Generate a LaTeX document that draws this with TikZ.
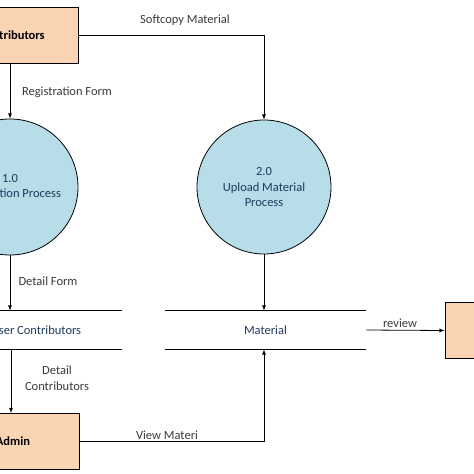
\documentclass[tikz,border=0pt]{standalone}
\usepackage{fontspec}
\setmainfont{Carlito}
\usetikzlibrary{arrows, shapes}

\definecolor{peach}{HTML}{FBD4B4}
\definecolor{aqua}{HTML}{B6DDE8}
\definecolor{navy}{HTML}{1F3B5C}
\definecolor{ink}{HTML}{3A3A3A}

\tikzset{
  entity/.style={rectangle, draw, fill=peach, minimum width=132pt, minimum height=56pt, font=\fontsize{12.5}{15}\selectfont\bfseries},
  proc/.style={circle, draw, fill=aqua, text=navy, align=center, inner sep=0pt},
  store/.style={rectangle, minimum height=38pt, text=navy},
  flow/.style={text=ink, align=center}
}

\begin{document}
\begin{tikzpicture}[x=1pt, y=-1pt, line width=0.8pt, font=\fontsize{12.5}{15.5}\selectfont]
\useasboundingbox (0,0) rectangle (474,474);

\node[entity] (contrib) at (12,35)    {Contributors};
\node[entity] (admin)   at (13,441.5) {Admin};
\node[entity] (reviewer) at (511,330.5) {};

\node[proc, minimum size=136pt] (reg)    at (10,187)  {1.0\\Registration Process};
\node[proc, minimum size=134pt] (upload) at (264,187) {2.0\\Upload Material\\Process};

\node[store, minimum width=172pt] (users)    at (36,330)    {User Contributors};
\node[store, minimum width=201pt] (material) at (265.5,330) {Material};

% store lines
\draw (users.north west) -- (users.north east);
\draw (users.south west) -- (users.south east);
\draw (material.north west) -- (material.north east);
\draw (material.south west) -- (material.south east);

\draw[-latex] (reg |- contrib.south) -- (reg.north);
\draw[-latex] (contrib.east |- 0,35) -| (upload.north);
\draw[-latex] (reg.south) -- (reg |- users.north);
\draw[-latex] (users.south -| 11,0) -- (admin.north -| 11,0);
\draw[-latex] (upload.south) -- (upload |- material.north);
\draw[-latex] (admin.east) -| (upload |- material.south);
\draw[-latex] (material.east) -- (reviewer.west);

\node[flow] (lsoft)   at (185,20)  {Softcopy Material};
\node[flow] (lreg)    at (67,92)   {Registration Form};
\node[flow] (ldetail) at (48,281)  {Detail Form};
\node[flow] (lcontr)  at (57,378)  {Detail\\Contributors};
\node[flow] (lview)   at (167,435) {View Materi};
\node[flow] (lreview) at (400,323) {review};
\end{tikzpicture}
\end{document}
